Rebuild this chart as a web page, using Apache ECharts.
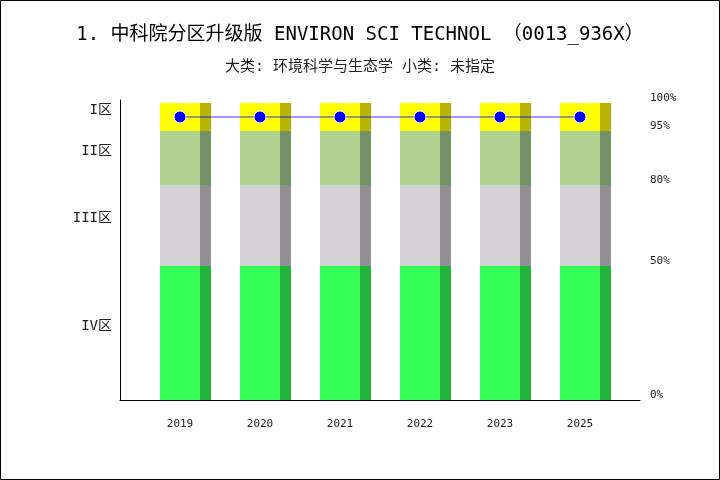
<!DOCTYPE html>
<html>
<head>
<meta charset="utf-8">
<script src="https://cdn.jsdelivr.net/npm/echarts@6/dist/echarts.min.js"></script>
<style>
  html, body { margin: 0; padding: 0; background: #fff; }
  #c { width: 720px; height: 480px; }
</style>
</head>
<body>
<div id="c"></div>
<script>
(() => {
  "use strict";
  const years = ["2019", "2020", "2021", "2022", "2023", "2025"];
  // bands bottom -> top, heights as drawn (share of the column)
  const zones = ["IV区", "III区", "II区", "I区"];
  const zoneHeights = [44.7, 27, 18, 9.3];
  const zoneBounds = ["0%", "50%", "80%", "95%", "100%"];
  const zoneColors = ["#33ff55", "#d3d1d3", "#aed393", "#ffff00"];
  const zoneShades = ["#24b33c", "#918f91", "#739466", "#b8b400"];
  const zoneByYear = ["I区", "I区", "I区", "I区", "I区", "I区"];

  const cum = [0];
  zoneHeights.forEach(h => cum.push(+(cum[cum.length - 1] + h).toFixed(2)));
  const mids = zoneHeights.map((h, i) => +(cum[i] + h / 2).toFixed(2));
  const near = (arr, v) => arr.reduce((b, x, i) => Math.abs(x - v) < Math.abs(arr[b] - v) ? i : b, 0);

  const FONT = "'DejaVu Sans Mono', 'Noto Sans CJK SC', monospace";
  const chart = echarts.init(document.getElementById("c"));
  const hide = { axisLine: { show: false }, axisTick: { show: false }, splitLine: { show: false } };

  // shadow offset gives the darker strip on the right of each column
  const bars = zones.map((z, k) => ({
    name: z, type: "bar", stack: "zone", barWidth: 40, z: 2,
    data: years.map(() => zoneHeights[k]),
    itemStyle: { color: zoneColors[k], shadowColor: zoneShades[k], shadowOffsetX: 11, shadowBlur: 0 },
    emphasis: { disabled: true }, silent: true,
  }));

  chart.setOption({
    animation: false,
    title: [
      { text: "1. 中科院分区升级版 ENVIRON SCI TECHNOL （0013_936X）", left: "center", top: 21,
        textStyle: { fontFamily: FONT, fontSize: 19, fontWeight: "normal", color: "#000" } },
      { text: "大类: 环境科学与生态学 小类: 未指定", left: "center", top: 55,
        textStyle: { fontFamily: FONT, fontSize: 15, fontWeight: "normal", color: "#222" } },
    ],
    graphic: [{ type: "rect", shape: { x: 0.5, y: 0.5, width: 719, height: 479 }, style: { fill: null, stroke: "#000", lineWidth: 1 }, z: 100 }],
    grid: [
      { left: 140, right: 100, top: 100, bottom: 80 },  // data
      { left: 120, right: 80, top: 100, bottom: 80 },   // frame + side labels
    ],
    xAxis: [
      { type: "category", gridIndex: 0, data: years, ...hide,
        axisLabel: { margin: 19, fontSize: 11, color: "#222", fontFamily: FONT } },
      { type: "value", gridIndex: 1, min: 0, max: 1, axisLabel: { show: false },
        axisLine: { show: true, lineStyle: { color: "#000", width: 1 } }, axisTick: { show: false }, splitLine: { show: false } },
    ],
    yAxis: [
      { type: "value", gridIndex: 0, min: 0, max: 100, ...hide, axisLabel: { show: false } },
      {
        type: "value", gridIndex: 1, min: 0, max: 100, position: "left",
        axisLine: { show: true, onZero: false, lineStyle: { color: "#000", width: 1 } },
        axisTick: { show: false }, splitLine: { show: false },
        axisLabel: { customValues: mids, formatter: v => zones[near(mids, v)],
          margin: 8, fontSize: 14, color: "#222", fontFamily: FONT, verticalAlign: "bottom" },
      },
      {
        type: "value", gridIndex: 1, min: 0, max: 100, position: "right", ...hide,
        axisLabel: { customValues: cum, formatter: v => zoneBounds[near(cum, v)],
          margin: 10, fontSize: 11, lineHeight: 10, color: "#222", fontFamily: FONT, verticalAlign: "bottom" },
      },
    ],
    series: [
      ...bars,
      {
        type: "line", z: 5, silent: true,
        data: zoneByYear.map(z => mids[zones.indexOf(z)]),
        lineStyle: { color: "rgba(0,0,255,0.4)", width: 2 },
        symbol: "circle", symbolSize: 12,
        itemStyle: { color: "#0000ff", borderColor: "#fff", borderWidth: 1 },
      },
    ],
  });
})();
</script>
</body>
</html>
